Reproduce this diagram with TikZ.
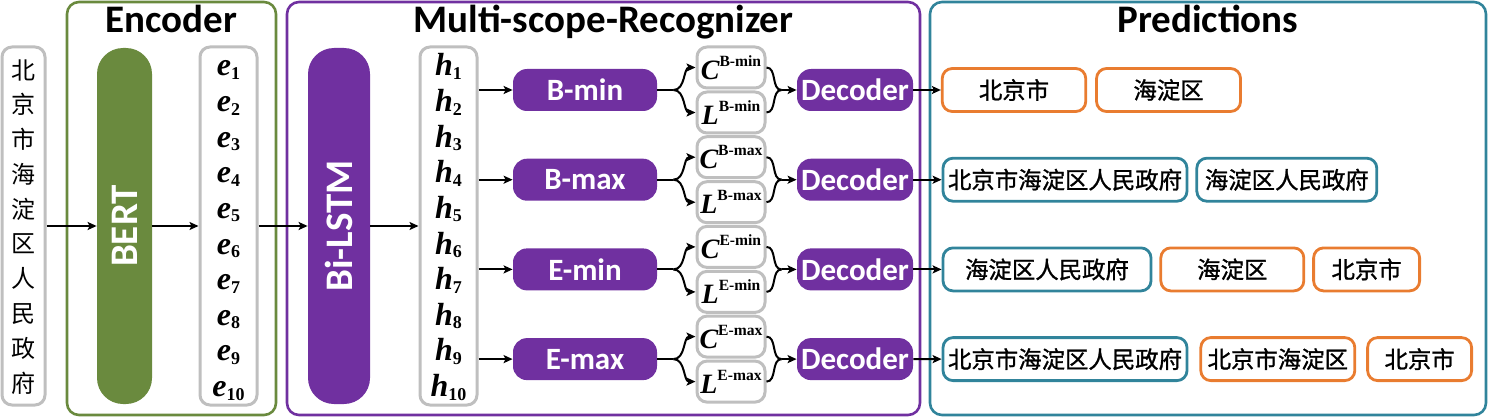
\documentclass[tikz,border=0pt]{standalone}
\usepackage{fontspec}
\setmainfont{Liberation Serif}
\newfontfamily\titlefont{Carlito}
\newfontfamily\cjk{Noto Sans CJK SC}
\newfontfamily\cjkbold[FakeBold=1.2]{Noto Sans CJK SC}
\usepackage{xcolor}
\usepackage{tikz}
\usetikzlibrary{arrows.meta,positioning}

\definecolor{encgreen}{HTML}{6A8A3E}
\definecolor{msrpurple}{HTML}{7030A0}
\definecolor{predteal}{HTML}{31849B}
\definecolor{spanorange}{HTML}{E97C30}
\definecolor{boxgray}{HTML}{BFBFBF}

% bold italic vector with a subscript, and a tagged matrix with a superscript
\newcommand{\vecsub}[2]{{\bfseries\itshape #1}\raisebox{-1.8pt}{\fontsize{9pt}{9pt}\selectfont\bfseries #2}}
\newcommand{\tagsup}[2]{{\fontsize{14pt}{14pt}\selectfont\bfseries\itshape #1}\raisebox{6.5pt}{\fontsize{7.8pt}{8pt}\selectfont\bfseries #2}}

\begin{document}
\begin{tikzpicture}[
        x=0.5pt, y=-0.5pt,
        frame/.style={draw, line width=1.3pt, rounded corners=6pt, minimum height=206.5pt},
        title/.style={font=\titlefont\bfseries\fontsize{19.5pt}{20pt}\selectfont, anchor=base},
        graybox/.style={draw=boxgray, line width=1.5pt, rounded corners=5pt, inner sep=0pt},
        column/.style={graybox, minimum width=28.5pt, minimum height=179pt},
        cell/.style={graybox, minimum width=34pt, minimum height=20.5pt},
        pill/.style={fill=#1, rounded corners=13pt, text=white, inner sep=0pt,
            font=\titlefont\bfseries\fontsize{19.5pt}{20pt}\selectfont,
            minimum width=178pt, rotate=90},
        module/.style={fill=msrpurple, rounded corners=7pt, text=white, inner sep=0pt,
            font=\titlefont\bfseries\fontsize{15.5pt}{16pt}\selectfont, minimum height=21pt},
        hanzi/.style={font=\cjk\fontsize{12pt}{12pt}\selectfont, inner sep=0pt},
        vec/.style={font=\fontsize{16pt}{16pt}\selectfont, inner sep=0pt, anchor=base},
        predbox/.style={draw=#1, line width=1.4pt, rounded corners=5pt, inner sep=2pt,
            minimum height=21.5pt, font=\cjkbold\fontsize{11.7pt}{12pt}\selectfont},
        link/.style={line width=1pt},
        arrow/.style={link, -{Stealth[length=4.5pt,width=4pt,inset=1pt]}}
    ]
    \useasboundingbox (0,0) rectangle (1488,417);

    % Three stage frames
    \node[frame, draw=encgreen, minimum width=104.5pt] (enc) at (171.5,208.5) {};
    \node[frame, draw=msrpurple, minimum width=316.5pt] (msr) at (603.5,208.5) {};
    \node[frame, draw=predteal, minimum width=278pt] (pred) at (1208,208.5) {};
    \node[title] (enctitle) at (171.5,33) {Encoder};
    \node[title] (msrtitle) at (603.5,33) {Multi-scope-Recognizer};
    \node[title] (predtitle) at (1208,33) {Predictions};

    % Input characters
    \node[column, minimum width=21.5pt] (input) at (23.5,226) {};
    \foreach \ch [count=\i from 0] in {北,京,市,海,淀,区,人,民,政,府}
        \node[hanzi] (w\i) at (23.5,70+34.8*\i) {\ch};

    % Encoder and Bi-LSTM
    \node[pill=encgreen, minimum height=27.5pt] (bert) at (124.5,226) {BERT};
    \node[column] (ebox) at (228.5,226) {};
    \foreach \i in {1,...,10}
        \node[vec] (e\i) at (228.5,76+35.6*\i-35.6) {\vecsub{e}{\i}};
    \node[pill=msrpurple, minimum height=31pt] (lstm) at (339,226) {Bi-LSTM};
    \node[column] (hbox) at (448.5,226) {};
    \foreach \i in {1,...,10}
        \node[vec] (h\i) at (448.5,76+35.6*\i-35.6) {\vecsub{h}{\i}};

    \draw[arrow] (input) -- (bert);
    \draw[arrow] (bert) -- (ebox);
    \draw[arrow] (ebox) -- (lstm);
    \draw[arrow] (lstm) -- (hbox);

    % One recognizer per scope
    \foreach \tag [count=\r from 0] in {B-min,B-max,E-min,E-max} {
        \pgfmathsetmacro\yy{90+89.7*\r}
        \node[module, minimum width=72pt] (m\r) at (585,\yy) {\tag};
        \node[cell] (c\r) at (731,\yy-22.5) {\tagsup{C}{\tag}};
        \node[cell] (l\r) at (731,\yy+22.5) {\tagsup{L}{\tag}};
        \node[module, minimum width=58pt] (d\r) at (855,\yy) {Decoder};

        \draw[arrow] (hbox.east |- m\r.west) -- (m\r.west);
        \draw[link] (m\r.east) -- ++(8pt,0) coordinate (s\r);
        \draw[arrow] (s\r) to[out=0,in=180] (c\r.west);
        \draw[arrow] (s\r) to[out=0,in=180] (l\r.west);
        \draw[link] (c\r.east) to[out=0,in=180] ([xshift=-7.5pt]d\r.west) coordinate (j\r);
        \draw[link] (l\r.east) to[out=0,in=180] (j\r);
        \draw[arrow] (j\r) -- (d\r.west);
    }

    % Predicted spans
    \node[predbox=spanorange, minimum width=71.75pt] (p01) at (1014,90) {北京市};
    \node[predbox=spanorange, minimum width=72pt, right=4pt of p01] (p02) {海淀区};

    \node[predbox=predteal, minimum width=122pt] (p11) at (1065,179.7) {北京市海淀区人民政府};
    \node[predbox=predteal, minimum width=90pt, right=3.5pt of p11] (p12) {海淀区人民政府};

    \node[predbox=predteal, minimum width=104pt] (p21) at (1047,269.4) {海淀区人民政府};
    \node[predbox=spanorange, minimum width=71.5pt, right=3.5pt of p21] (p22) {海淀区};
    \node[predbox=spanorange, minimum width=53pt, right=3.5pt of p22] (p23) {北京市};

    \node[predbox=predteal, minimum width=122pt] (p31) at (1065,359.1) {北京市海淀区人民政府};
    \node[predbox=spanorange, minimum width=77pt, right=5.5pt of p31] (p32) {北京市海淀区};
    \node[predbox=spanorange, minimum width=52pt, right=5pt of p32] (p33) {北京市};

    \foreach \r in {0,...,3}
        \draw[arrow] (d\r) -- (p\r1);
\end{tikzpicture}
\end{document}
